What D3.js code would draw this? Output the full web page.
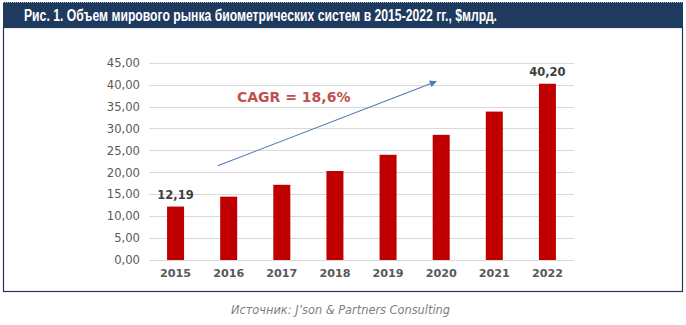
<!DOCTYPE html>
<html>
<head>
<meta charset="utf-8">
<script src="https://cdn.jsdelivr.net/npm/d3@7"></script>
<style>
  html, body { margin: 0; padding: 0; background: #ffffff; }
  svg { display: block; }
</style>
</head>
<body>
<svg id="chart" width="686" height="325"></svg>
<script>
// Market volume, $ bn
const years = ["2015", "2016", "2017", "2018", "2019", "2020", "2021", "2022"];
const volumes = [12.19, 14.45, 17.15, 20.3, 24.0, 28.55, 33.85, 40.2];
const labelledYears = ["2015", "2022"];
const yTicks = [0, 5, 10, 15, 20, 25, 30, 35, 40, 45];
const titleText = "Рис. 1. Объем мирового рынка биометрических систем в 2015-2022 гг., $млрд.";
const cagrText = "CAGR = 18,6%";
const sourceText = "Источник: J’son & Partners Consulting";

const svg = d3.select("#chart");
const fmt = v => d3.format(".2f")(v).replace(".", ",");

// Frame and title band
svg.append("rect")
  .attr("x", 3.5).attr("y", 27.5).attr("width", 679).attr("height", 264)
  .attr("fill", "#fff").attr("stroke", "#243750").attr("stroke-width", 1.2);
svg.append("rect")
  .attr("x", 3).attr("y", 2).attr("width", 680).attr("height", 26)
  .attr("fill", "#1e3a5f");
svg.append("line")
  .attr("x1", 3).attr("x2", 683).attr("y1", 2.5).attr("y2", 2.5)
  .attr("stroke", "#9fb3cc").attr("stroke-dasharray", "1,1");
svg.append("text")
  .attr("x", 24).attr("y", 20.5)
  .attr("textLength", 473).attr("lengthAdjust", "spacingAndGlyphs")
  .style("font-family", "'Liberation Sans Narrow', 'Liberation Sans', Arial, sans-serif")
  .style("font-weight", "bold").style("font-size", "16px")
  .attr("fill", "#ffffff")
  .text(titleText);

// Scales
const x = d3.scaleBand().domain(years).range([149, 574]).paddingInner(0.68).paddingOuter(0.34);
const y = d3.scaleLinear().domain([0, 45]).range([260, 62.7]);

// Grid
svg.append("g").selectAll("line").data(yTicks).join("line")
  .attr("x1", 149).attr("x2", 574)
  .attr("y1", d => Math.round(y(d)) + 0.5).attr("y2", d => Math.round(y(d)) + 0.5)
  .attr("stroke", "#d9d9d9").attr("stroke-width", 1);

// Y axis labels
const yAxis = d3.axisLeft(y).tickValues(yTicks).tickFormat(fmt).tickSize(0).tickPadding(9);
const gy = svg.append("g").attr("transform", "translate(149,0)").call(yAxis);
gy.select(".domain").remove();
gy.selectAll("text")
  .style("font-family", "'DejaVu Sans', Verdana, sans-serif")
  .style("font-size", "11.6px").attr("fill", "#595959");

// X axis labels
const xAxis = d3.axisBottom(x).tickSize(0).tickPadding(9);
const gx = svg.append("g").attr("transform", "translate(0,260)").call(xAxis);
gx.select(".domain").remove();
gx.selectAll("text")
  .style("font-family", "'DejaVu Sans', Verdana, sans-serif")
  .style("font-weight", "bold").style("font-size", "11.2px").attr("fill", "#595959");

// Bars
svg.append("g").selectAll("rect").data(years).join("rect")
  .attr("x", d => x(d)).attr("width", x.bandwidth())
  .attr("y", (d, i) => y(volumes[i]))
  .attr("height", (d, i) => y(0) - y(volumes[i]))
  .attr("fill", "#c00000");

// Value labels
svg.append("g").selectAll("text")
  .data(years.map((d, i) => ({ year: d, v: volumes[i] })).filter(d => labelledYears.includes(d.year)))
  .join("text")
  .attr("x", d => x(d.year) + x.bandwidth() / 2)
  .attr("y", d => y(d.v) - 8)
  .attr("text-anchor", "middle")
  .style("font-family", "'DejaVu Sans', Verdana, sans-serif")
  .style("font-weight", "bold").style("font-size", "11.5px").attr("fill", "#404040")
  .text(d => fmt(d.v));

// Growth arrow
svg.append("defs").append("marker")
  .attr("id", "arrowHead").attr("viewBox", "0 0 10 10")
  .attr("refX", 9).attr("refY", 5)
  .attr("markerWidth", 9).attr("markerHeight", 7)
  .attr("markerUnits", "userSpaceOnUse")
  .attr("orient", "auto")
  .append("path").attr("d", "M0,0 L10,5 L0,10 Z").attr("fill", "#4f7ab5");

svg.append("line")
  .attr("x1", x("2016") + x.bandwidth() / 2 - 11).attr("y1", y(21.5))
  .attr("x2", x("2020") + x.bandwidth() / 2 - 5).attr("y2", y(40.7))
  .attr("stroke", "#4f7ab5").attr("stroke-width", 1.1)
  .attr("marker-end", "url(#arrowHead)");

svg.append("text")
  .attr("x", 237).attr("y", 102)
  .style("font-family", "'DejaVu Sans', Verdana, sans-serif")
  .style("font-weight", "bold").style("font-size", "14px")
  .attr("fill", "#c0504d")
  .text(cagrText);

// Source note
svg.append("text")
  .attr("x", 231).attr("y", 314)
  .attr("textLength", 219).attr("lengthAdjust", "spacingAndGlyphs")
  .style("font-family", "'DejaVu Sans Condensed', 'DejaVu Sans', sans-serif")
  .style("font-style", "italic").style("font-size", "11.5px")
  .attr("fill", "#7f7f7f")
  .text(sourceText);
</script>
</body>
</html>
